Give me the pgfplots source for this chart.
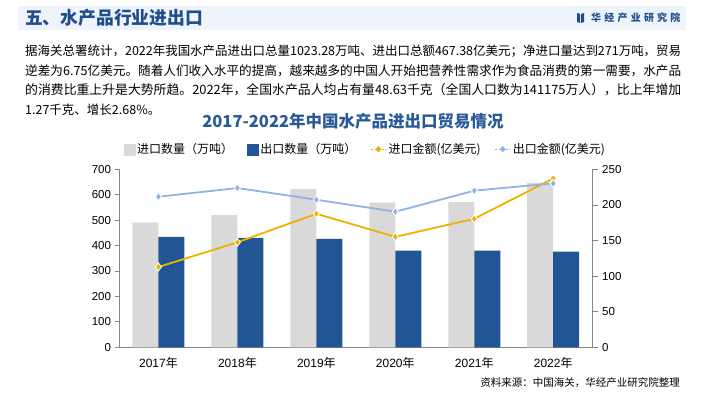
\documentclass[border=0pt]{standalone}
\usepackage{pgfplots}
\pgfplotsset{compat=1.18}
\usepackage{fontspec}
\setmainfont{Noto Sans CJK SC}
\newfontfamily\arial{Liberation Sans}
\definecolor{hdrbg}{HTML}{EFF3FB}
\definecolor{hdrtxt}{HTML}{1F4E8C}
\definecolor{ttl}{HTML}{2A5A9A}
\definecolor{impbar}{HTML}{D9D9D9}
\definecolor{expbar}{HTML}{215594}
\definecolor{impline}{HTML}{EDB100}
\definecolor{expline}{HTML}{8DB4E2}
\definecolor{axgray}{HTML}{868686}
\begin{document}
\begin{tikzpicture}[x=1pt,y=1pt]
\path (0,0) rectangle (705,392);
% header band
\fill[hdrbg] (18,386) rectangle (686,361.5);
\node[anchor=west,inner sep=0pt,text=hdrtxt,font=\fontsize{17.8}{19}\selectfont\bfseries] at (25,374) {五、水产品行业进出口};
\fill[hdrtxt] (577,379) -- (580,378) -- (580,369) -- (577,370) -- cycle;
\fill[hdrtxt] (581,378) -- (584,379) -- (584,370) -- (581,369) -- cycle;
\node[anchor=west,inner sep=0pt,text=hdrtxt,font=\fontsize{10}{12}\selectfont\bfseries] at (591,374) {华\hspace{3.2pt}经\hspace{3.2pt}产\hspace{3.2pt}业\hspace{3.2pt}研\hspace{3.2pt}究\hspace{3.2pt}院};
% paragraph
\begin{scope}[every node/.style={anchor=west,inner sep=0pt,font=\fontsize{12.5}{14}\selectfont}]
\node at (25,340.5) {\resizebox{656pt}{!}{据海关总署统计，2022年我国水产品进出口总量1023.28万吨、进出口总额467.38亿美元；净进口量达到271万吨，贸易}};
\node at (25,321.5) {\resizebox{656pt}{!}{逆差为6.75亿美元。随着人们收入水平的提高，越来越多的中国人开始把营养性需求作为食品消费的第一需要，水产品}};
\node at (25,302) {\resizebox{656pt}{!}{的消费比重上升是大势所趋。2022年，全国水产品人均占有量48.63千克（全国人口数为141175万人），比上年增加}};
\node at (25,282) {1.27千克、增长2.68\%。};
\end{scope}
% title
\node[inner sep=0pt,text=ttl,font=\fontsize{16.5}{19}\selectfont\bfseries] at (353,270.5) {2017-2022年中国水产品进出口贸易情况};
% source
\node[anchor=east,inner sep=0pt,font=\fontsize{10.5}{12}\selectfont] at (680,9) {资料来源：中国海关，华经产业研究院整理};

\begin{axis}[
  at={(119pt,44.7pt)}, anchor=south west,
  scale only axis, width=473.7pt, height=178pt,
  xmin=-0.5, xmax=5.5, ymin=0, ymax=700,
  ytick={0,100,...,700},
  axis y line*=left, axis x line*=bottom,
  axis line style={axgray, line width=0.8pt},
  tick style={axgray, line width=0.8pt},
  tick align=outside, major tick length=3.5pt,
  xtick={0,...,5}, xticklabels={},
  extra x ticks={-0.5,0.5,1.5,2.5,3.5,4.5,5.5},
  extra x tick labels={},
  extra x tick style={major tick length=4pt},
  xtick style={draw=none},
  extra x tick style={tick style={axgray,line width=0.8pt}},
  yticklabel style={font=\arial\fontsize{11.5}{13}\selectfont, xshift=-1pt},
  /pgf/number format/assume math mode=true,
  ybar=0pt, bar width=26pt,
  clip=false,
]
\addplot[fill=impbar, draw=none] coordinates {(0,490) (1,520) (2,622) (3,569) (4,571) (5,647)};
\addplot[fill=expbar, draw=none] coordinates {(0,434) (1,430) (2,426) (3,380) (4,380) (5,376)};
\foreach \i/\yr in {0/2017,1/2018,2/2019,3/2020,4/2021,5/2022}{
  \edef\tmp{\noexpand\node[font=\noexpand\fontsize{12}{14}\noexpand\selectfont] at (axis cs:\i,0) [yshift=-15.5pt] {{\noexpand\arial \yr}年};}
  \tmp
}
\end{axis}

\begin{axis}[
  at={(119pt,44.7pt)}, anchor=south west,
  scale only axis, width=473.7pt, height=178pt,
  xmin=-0.5, xmax=5.5, ymin=0, ymax=250,
  ytick={0,50,...,250},
  axis y line*=right, axis x line=none,
  axis line style={axgray, line width=0.8pt},
  tick style={axgray, line width=0.8pt},
  tick align=outside, major tick length=5pt,
  yticklabel style={font=\arial\fontsize{11.5}{13}\selectfont, xshift=1pt},
  /pgf/number format/assume math mode=true,
  clip=false,
  legend style={at={(0.52,1)}, anchor=south, yshift=10pt, draw=none, fill=none,
    font=\fontsize{12}{14}\selectfont, legend columns=4,
    /tikz/every even column/.append style={column sep=12pt}},
  legend cell align=left,
]
\addlegendimage{legend image code/.code={\fill[impbar] (0pt,-5.5pt) rectangle (11pt,5.5pt);}}
\addlegendentry{进口数量（万吨）}
\addlegendimage{legend image code/.code={\fill[expbar] (0pt,-5.5pt) rectangle (11pt,5.5pt);}}
\addlegendentry{出口数量（万吨）}
\addplot[impline, line width=1.8pt, mark=diamond*, mark size=4pt, mark options={fill=impline, draw=white, line width=0.8pt},
  legend image code/.code={\draw[impline,line width=1.2pt,dash pattern=on 2pt off 1.5pt] (0pt,0pt) -- (15pt,0pt); \fill[impline] (7.5pt,0pt) circle (1.8pt);}]
  coordinates {(0,112.8) (1,147.5) (2,187.6) (3,155.1) (4,180.5) (5,237.07)};
\addlegendentry{进口金额(亿美元)}
\addplot[expline, line width=1.8pt, mark=diamond*, mark size=4pt, mark options={fill=expline, draw=white, line width=0.8pt},
  legend image code/.code={\draw[expline,line width=1.2pt,dash pattern=on 2pt off 1.5pt] (0pt,0pt) -- (15pt,0pt); \fill[expline] (7.5pt,0pt) circle (1.8pt);}]
  coordinates {(0,211.5) (1,223.7) (2,207.3) (3,190.4) (4,220.0) (5,230.31)};
\addlegendentry{出口金额(亿美元)}
\end{axis}
\end{tikzpicture}
\end{document}
